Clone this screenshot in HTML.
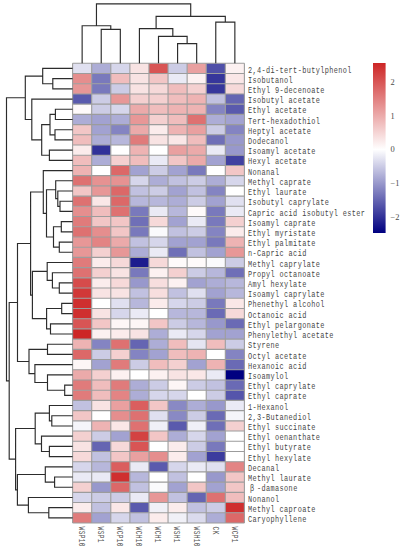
<!DOCTYPE html>
<html><head><meta charset="utf-8"><style>
html,body{margin:0;padding:0;background:#fff;width:404px;height:550px;overflow:hidden;position:relative}
</style></head><body>
<svg width="404" height="550" viewBox="0 0 404 550" style="position:absolute;left:0;top:0">
<rect x="72.60" y="63.30" width="19.09" height="10.22" fill="#e0e0f0"/>
<rect x="91.69" y="63.30" width="19.09" height="10.22" fill="#adadd6"/>
<rect x="110.78" y="63.30" width="19.09" height="10.22" fill="#d6d6eb"/>
<rect x="129.87" y="63.30" width="19.09" height="10.22" fill="#f8e3e3"/>
<rect x="148.96" y="63.30" width="19.09" height="10.22" fill="#d85555"/>
<rect x="168.04" y="63.30" width="19.09" height="10.22" fill="#cccce5"/>
<rect x="187.13" y="63.30" width="19.09" height="10.22" fill="#e9a0a0"/>
<rect x="206.22" y="63.30" width="19.09" height="10.22" fill="#5050a8"/>
<rect x="225.31" y="63.30" width="19.09" height="10.22" fill="#fcf1f1"/>
<rect x="72.60" y="73.52" width="19.09" height="10.22" fill="#e58e8e"/>
<rect x="91.69" y="73.52" width="19.09" height="10.22" fill="#7979bc"/>
<rect x="110.78" y="73.52" width="19.09" height="10.22" fill="#f0bdbd"/>
<rect x="129.87" y="73.52" width="19.09" height="10.22" fill="#f8e3e3"/>
<rect x="148.96" y="73.52" width="19.09" height="10.22" fill="#f2c6c6"/>
<rect x="168.04" y="73.52" width="19.09" height="10.22" fill="#eaeaf5"/>
<rect x="187.13" y="73.52" width="19.09" height="10.22" fill="#fcf1f1"/>
<rect x="206.22" y="73.52" width="19.09" height="10.22" fill="#36369b"/>
<rect x="225.31" y="73.52" width="19.09" height="10.22" fill="#fae7e7"/>
<rect x="72.60" y="83.73" width="19.09" height="10.22" fill="#e79797"/>
<rect x="91.69" y="83.73" width="19.09" height="10.22" fill="#7979bc"/>
<rect x="110.78" y="83.73" width="19.09" height="10.22" fill="#cccce5"/>
<rect x="129.87" y="83.73" width="19.09" height="10.22" fill="#f8e3e3"/>
<rect x="148.96" y="83.73" width="19.09" height="10.22" fill="#f6d9d9"/>
<rect x="168.04" y="83.73" width="19.09" height="10.22" fill="#f0bdbd"/>
<rect x="187.13" y="83.73" width="19.09" height="10.22" fill="#f4d0d0"/>
<rect x="206.22" y="83.73" width="19.09" height="10.22" fill="#36369b"/>
<rect x="225.31" y="83.73" width="19.09" height="10.22" fill="#f6d9d9"/>
<rect x="72.60" y="93.95" width="19.09" height="10.22" fill="#5a5aad"/>
<rect x="91.69" y="93.95" width="19.09" height="10.22" fill="#cccce5"/>
<rect x="110.78" y="93.95" width="19.09" height="10.22" fill="#e79797"/>
<rect x="129.87" y="93.95" width="19.09" height="10.22" fill="#f4d0d0"/>
<rect x="148.96" y="93.95" width="19.09" height="10.22" fill="#f4d0d0"/>
<rect x="168.04" y="93.95" width="19.09" height="10.22" fill="#f0bdbd"/>
<rect x="187.13" y="93.95" width="19.09" height="10.22" fill="#eeb3b3"/>
<rect x="206.22" y="93.95" width="19.09" height="10.22" fill="#c1c1e0"/>
<rect x="225.31" y="93.95" width="19.09" height="10.22" fill="#6565b2"/>
<rect x="72.60" y="104.16" width="19.09" height="10.22" fill="#fefafa"/>
<rect x="91.69" y="104.16" width="19.09" height="10.22" fill="#cccce5"/>
<rect x="110.78" y="104.16" width="19.09" height="10.22" fill="#d6d6eb"/>
<rect x="129.87" y="104.16" width="19.09" height="10.22" fill="#ebaaaa"/>
<rect x="148.96" y="104.16" width="19.09" height="10.22" fill="#f0bdbd"/>
<rect x="168.04" y="104.16" width="19.09" height="10.22" fill="#eeb3b3"/>
<rect x="187.13" y="104.16" width="19.09" height="10.22" fill="#eeb3b3"/>
<rect x="206.22" y="104.16" width="19.09" height="10.22" fill="#8484c2"/>
<rect x="225.31" y="104.16" width="19.09" height="10.22" fill="#5a5aad"/>
<rect x="72.60" y="114.38" width="19.09" height="10.22" fill="#adadd6"/>
<rect x="91.69" y="114.38" width="19.09" height="10.22" fill="#a2a2d1"/>
<rect x="110.78" y="114.38" width="19.09" height="10.22" fill="#adadd6"/>
<rect x="129.87" y="114.38" width="19.09" height="10.22" fill="#e79797"/>
<rect x="148.96" y="114.38" width="19.09" height="10.22" fill="#f4d0d0"/>
<rect x="168.04" y="114.38" width="19.09" height="10.22" fill="#f0bdbd"/>
<rect x="187.13" y="114.38" width="19.09" height="10.22" fill="#de7171"/>
<rect x="206.22" y="114.38" width="19.09" height="10.22" fill="#adadd6"/>
<rect x="225.31" y="114.38" width="19.09" height="10.22" fill="#a2a2d1"/>
<rect x="72.60" y="124.59" width="19.09" height="10.22" fill="#f2c6c6"/>
<rect x="91.69" y="124.59" width="19.09" height="10.22" fill="#a2a2d1"/>
<rect x="110.78" y="124.59" width="19.09" height="10.22" fill="#8484c2"/>
<rect x="129.87" y="124.59" width="19.09" height="10.22" fill="#ebaaaa"/>
<rect x="148.96" y="124.59" width="19.09" height="10.22" fill="#fbecec"/>
<rect x="168.04" y="124.59" width="19.09" height="10.22" fill="#eeb3b3"/>
<rect x="187.13" y="124.59" width="19.09" height="10.22" fill="#e9a0a0"/>
<rect x="206.22" y="124.59" width="19.09" height="10.22" fill="#cccce5"/>
<rect x="225.31" y="124.59" width="19.09" height="10.22" fill="#8484c2"/>
<rect x="72.60" y="134.81" width="19.09" height="10.22" fill="#f0bdbd"/>
<rect x="91.69" y="134.81" width="19.09" height="10.22" fill="#adadd6"/>
<rect x="110.78" y="134.81" width="19.09" height="10.22" fill="#b7b7db"/>
<rect x="129.87" y="134.81" width="19.09" height="10.22" fill="#e07b7b"/>
<rect x="148.96" y="134.81" width="19.09" height="10.22" fill="#f8e3e3"/>
<rect x="168.04" y="134.81" width="19.09" height="10.22" fill="#fae7e7"/>
<rect x="187.13" y="134.81" width="19.09" height="10.22" fill="#f0bdbd"/>
<rect x="206.22" y="134.81" width="19.09" height="10.22" fill="#6f6fb7"/>
<rect x="225.31" y="134.81" width="19.09" height="10.22" fill="#9898cc"/>
<rect x="72.60" y="145.02" width="19.09" height="10.22" fill="#fbecec"/>
<rect x="91.69" y="145.02" width="19.09" height="10.22" fill="#313199"/>
<rect x="110.78" y="145.02" width="19.09" height="10.22" fill="#ffffff"/>
<rect x="129.87" y="145.02" width="19.09" height="10.22" fill="#eeb3b3"/>
<rect x="148.96" y="145.02" width="19.09" height="10.22" fill="#ffffff"/>
<rect x="168.04" y="145.02" width="19.09" height="10.22" fill="#e9a0a0"/>
<rect x="187.13" y="145.02" width="19.09" height="10.22" fill="#ebaaaa"/>
<rect x="206.22" y="145.02" width="19.09" height="10.22" fill="#eaeaf5"/>
<rect x="225.31" y="145.02" width="19.09" height="10.22" fill="#9898cc"/>
<rect x="72.60" y="155.24" width="19.09" height="10.22" fill="#f0bdbd"/>
<rect x="91.69" y="155.24" width="19.09" height="10.22" fill="#adadd6"/>
<rect x="110.78" y="155.24" width="19.09" height="10.22" fill="#f4d0d0"/>
<rect x="129.87" y="155.24" width="19.09" height="10.22" fill="#f0bdbd"/>
<rect x="148.96" y="155.24" width="19.09" height="10.22" fill="#eaeaf5"/>
<rect x="168.04" y="155.24" width="19.09" height="10.22" fill="#f2c6c6"/>
<rect x="187.13" y="155.24" width="19.09" height="10.22" fill="#ebaaaa"/>
<rect x="206.22" y="155.24" width="19.09" height="10.22" fill="#a2a2d1"/>
<rect x="225.31" y="155.24" width="19.09" height="10.22" fill="#4141a0"/>
<rect x="72.60" y="165.46" width="19.09" height="10.22" fill="#eeb3b3"/>
<rect x="91.69" y="165.46" width="19.09" height="10.22" fill="#ffffff"/>
<rect x="110.78" y="165.46" width="19.09" height="10.22" fill="#dc6868"/>
<rect x="129.87" y="165.46" width="19.09" height="10.22" fill="#a2a2d1"/>
<rect x="148.96" y="165.46" width="19.09" height="10.22" fill="#cccce5"/>
<rect x="168.04" y="165.46" width="19.09" height="10.22" fill="#a2a2d1"/>
<rect x="187.13" y="165.46" width="19.09" height="10.22" fill="#7979bc"/>
<rect x="206.22" y="165.46" width="19.09" height="10.22" fill="#ffffff"/>
<rect x="225.31" y="165.46" width="19.09" height="10.22" fill="#f2c6c6"/>
<rect x="72.60" y="175.67" width="19.09" height="10.22" fill="#de7171"/>
<rect x="91.69" y="175.67" width="19.09" height="10.22" fill="#e69292"/>
<rect x="110.78" y="175.67" width="19.09" height="10.22" fill="#e69292"/>
<rect x="129.87" y="175.67" width="19.09" height="10.22" fill="#d6d6eb"/>
<rect x="148.96" y="175.67" width="19.09" height="10.22" fill="#adadd6"/>
<rect x="168.04" y="175.67" width="19.09" height="10.22" fill="#c1c1e0"/>
<rect x="187.13" y="175.67" width="19.09" height="10.22" fill="#cccce5"/>
<rect x="206.22" y="175.67" width="19.09" height="10.22" fill="#adadd6"/>
<rect x="225.31" y="175.67" width="19.09" height="10.22" fill="#d6d6eb"/>
<rect x="72.60" y="185.89" width="19.09" height="10.22" fill="#f2c6c6"/>
<rect x="91.69" y="185.89" width="19.09" height="10.22" fill="#e79797"/>
<rect x="110.78" y="185.89" width="19.09" height="10.22" fill="#dc6868"/>
<rect x="129.87" y="185.89" width="19.09" height="10.22" fill="#c1c1e0"/>
<rect x="148.96" y="185.89" width="19.09" height="10.22" fill="#cccce5"/>
<rect x="168.04" y="185.89" width="19.09" height="10.22" fill="#a2a2d1"/>
<rect x="187.13" y="185.89" width="19.09" height="10.22" fill="#c1c1e0"/>
<rect x="206.22" y="185.89" width="19.09" height="10.22" fill="#8484c2"/>
<rect x="225.31" y="185.89" width="19.09" height="10.22" fill="#ffffff"/>
<rect x="72.60" y="196.10" width="19.09" height="10.22" fill="#de7171"/>
<rect x="91.69" y="196.10" width="19.09" height="10.22" fill="#fae7e7"/>
<rect x="110.78" y="196.10" width="19.09" height="10.22" fill="#dc6868"/>
<rect x="129.87" y="196.10" width="19.09" height="10.22" fill="#b7b7db"/>
<rect x="148.96" y="196.10" width="19.09" height="10.22" fill="#b7b7db"/>
<rect x="168.04" y="196.10" width="19.09" height="10.22" fill="#adadd6"/>
<rect x="187.13" y="196.10" width="19.09" height="10.22" fill="#cccce5"/>
<rect x="206.22" y="196.10" width="19.09" height="10.22" fill="#a2a2d1"/>
<rect x="225.31" y="196.10" width="19.09" height="10.22" fill="#e0e0f0"/>
<rect x="72.60" y="206.32" width="19.09" height="10.22" fill="#e58e8e"/>
<rect x="91.69" y="206.32" width="19.09" height="10.22" fill="#f0bdbd"/>
<rect x="110.78" y="206.32" width="19.09" height="10.22" fill="#de7171"/>
<rect x="129.87" y="206.32" width="19.09" height="10.22" fill="#7979bc"/>
<rect x="148.96" y="206.32" width="19.09" height="10.22" fill="#eaeaf5"/>
<rect x="168.04" y="206.32" width="19.09" height="10.22" fill="#b7b7db"/>
<rect x="187.13" y="206.32" width="19.09" height="10.22" fill="#fefafa"/>
<rect x="206.22" y="206.32" width="19.09" height="10.22" fill="#7979bc"/>
<rect x="225.31" y="206.32" width="19.09" height="10.22" fill="#eaeaf5"/>
<rect x="72.60" y="216.53" width="19.09" height="10.22" fill="#e07b7b"/>
<rect x="91.69" y="216.53" width="19.09" height="10.22" fill="#f2c6c6"/>
<rect x="110.78" y="216.53" width="19.09" height="10.22" fill="#f2c6c6"/>
<rect x="129.87" y="216.53" width="19.09" height="10.22" fill="#6f6fb7"/>
<rect x="148.96" y="216.53" width="19.09" height="10.22" fill="#f6d9d9"/>
<rect x="168.04" y="216.53" width="19.09" height="10.22" fill="#a2a2d1"/>
<rect x="187.13" y="216.53" width="19.09" height="10.22" fill="#eaeaf5"/>
<rect x="206.22" y="216.53" width="19.09" height="10.22" fill="#7979bc"/>
<rect x="225.31" y="216.53" width="19.09" height="10.22" fill="#f4d0d0"/>
<rect x="72.60" y="226.75" width="19.09" height="10.22" fill="#de7171"/>
<rect x="91.69" y="226.75" width="19.09" height="10.22" fill="#e58e8e"/>
<rect x="110.78" y="226.75" width="19.09" height="10.22" fill="#f2c6c6"/>
<rect x="129.87" y="226.75" width="19.09" height="10.22" fill="#7979bc"/>
<rect x="148.96" y="226.75" width="19.09" height="10.22" fill="#fafafc"/>
<rect x="168.04" y="226.75" width="19.09" height="10.22" fill="#c1c1e0"/>
<rect x="187.13" y="226.75" width="19.09" height="10.22" fill="#cccce5"/>
<rect x="206.22" y="226.75" width="19.09" height="10.22" fill="#8484c2"/>
<rect x="225.31" y="226.75" width="19.09" height="10.22" fill="#fbecec"/>
<rect x="72.60" y="236.96" width="19.09" height="10.22" fill="#e79797"/>
<rect x="91.69" y="236.96" width="19.09" height="10.22" fill="#e38484"/>
<rect x="110.78" y="236.96" width="19.09" height="10.22" fill="#ebaaaa"/>
<rect x="129.87" y="236.96" width="19.09" height="10.22" fill="#c1c1e0"/>
<rect x="148.96" y="236.96" width="19.09" height="10.22" fill="#d6d6eb"/>
<rect x="168.04" y="236.96" width="19.09" height="10.22" fill="#a2a2d1"/>
<rect x="187.13" y="236.96" width="19.09" height="10.22" fill="#a2a2d1"/>
<rect x="206.22" y="236.96" width="19.09" height="10.22" fill="#7979bc"/>
<rect x="225.31" y="236.96" width="19.09" height="10.22" fill="#eeb3b3"/>
<rect x="72.60" y="247.18" width="19.09" height="10.22" fill="#e79797"/>
<rect x="91.69" y="247.18" width="19.09" height="10.22" fill="#f4d0d0"/>
<rect x="110.78" y="247.18" width="19.09" height="10.22" fill="#e79797"/>
<rect x="129.87" y="247.18" width="19.09" height="10.22" fill="#adadd6"/>
<rect x="148.96" y="247.18" width="19.09" height="10.22" fill="#eaeaf5"/>
<rect x="168.04" y="247.18" width="19.09" height="10.22" fill="#6f6fb7"/>
<rect x="187.13" y="247.18" width="19.09" height="10.22" fill="#c1c1e0"/>
<rect x="206.22" y="247.18" width="19.09" height="10.22" fill="#a2a2d1"/>
<rect x="225.31" y="247.18" width="19.09" height="10.22" fill="#e79797"/>
<rect x="72.60" y="257.40" width="19.09" height="10.22" fill="#e07b7b"/>
<rect x="91.69" y="257.40" width="19.09" height="10.22" fill="#fbecec"/>
<rect x="110.78" y="257.40" width="19.09" height="10.22" fill="#f6d9d9"/>
<rect x="129.87" y="257.40" width="19.09" height="10.22" fill="#1d1d8e"/>
<rect x="148.96" y="257.40" width="19.09" height="10.22" fill="#f6d9d9"/>
<rect x="168.04" y="257.40" width="19.09" height="10.22" fill="#fefafa"/>
<rect x="187.13" y="257.40" width="19.09" height="10.22" fill="#fefafa"/>
<rect x="206.22" y="257.40" width="19.09" height="10.22" fill="#fafafc"/>
<rect x="225.31" y="257.40" width="19.09" height="10.22" fill="#cccce5"/>
<rect x="72.60" y="267.61" width="19.09" height="10.22" fill="#de7171"/>
<rect x="91.69" y="267.61" width="19.09" height="10.22" fill="#f4d0d0"/>
<rect x="110.78" y="267.61" width="19.09" height="10.22" fill="#f8e3e3"/>
<rect x="129.87" y="267.61" width="19.09" height="10.22" fill="#7979bc"/>
<rect x="148.96" y="267.61" width="19.09" height="10.22" fill="#fcf1f1"/>
<rect x="168.04" y="267.61" width="19.09" height="10.22" fill="#f4d0d0"/>
<rect x="187.13" y="267.61" width="19.09" height="10.22" fill="#cccce5"/>
<rect x="206.22" y="267.61" width="19.09" height="10.22" fill="#b7b7db"/>
<rect x="225.31" y="267.61" width="19.09" height="10.22" fill="#6f6fb7"/>
<rect x="72.60" y="277.83" width="19.09" height="10.22" fill="#d64b4b"/>
<rect x="91.69" y="277.83" width="19.09" height="10.22" fill="#fbecec"/>
<rect x="110.78" y="277.83" width="19.09" height="10.22" fill="#f6d9d9"/>
<rect x="129.87" y="277.83" width="19.09" height="10.22" fill="#9898cc"/>
<rect x="148.96" y="277.83" width="19.09" height="10.22" fill="#f7dede"/>
<rect x="168.04" y="277.83" width="19.09" height="10.22" fill="#fcf1f1"/>
<rect x="187.13" y="277.83" width="19.09" height="10.22" fill="#a2a2d1"/>
<rect x="206.22" y="277.83" width="19.09" height="10.22" fill="#adadd6"/>
<rect x="225.31" y="277.83" width="19.09" height="10.22" fill="#b7b7db"/>
<rect x="72.60" y="288.04" width="19.09" height="10.22" fill="#d13838"/>
<rect x="91.69" y="288.04" width="19.09" height="10.22" fill="#f8e3e3"/>
<rect x="110.78" y="288.04" width="19.09" height="10.22" fill="#f8e3e3"/>
<rect x="129.87" y="288.04" width="19.09" height="10.22" fill="#c1c1e0"/>
<rect x="148.96" y="288.04" width="19.09" height="10.22" fill="#f7dede"/>
<rect x="168.04" y="288.04" width="19.09" height="10.22" fill="#c1c1e0"/>
<rect x="187.13" y="288.04" width="19.09" height="10.22" fill="#e0e0f0"/>
<rect x="206.22" y="288.04" width="19.09" height="10.22" fill="#a2a2d1"/>
<rect x="225.31" y="288.04" width="19.09" height="10.22" fill="#b7b7db"/>
<rect x="72.60" y="298.26" width="19.09" height="10.22" fill="#cf2f2f"/>
<rect x="91.69" y="298.26" width="19.09" height="10.22" fill="#ffffff"/>
<rect x="110.78" y="298.26" width="19.09" height="10.22" fill="#e0e0f0"/>
<rect x="129.87" y="298.26" width="19.09" height="10.22" fill="#b7b7db"/>
<rect x="148.96" y="298.26" width="19.09" height="10.22" fill="#fbecec"/>
<rect x="168.04" y="298.26" width="19.09" height="10.22" fill="#d6d6eb"/>
<rect x="187.13" y="298.26" width="19.09" height="10.22" fill="#cccce5"/>
<rect x="206.22" y="298.26" width="19.09" height="10.22" fill="#7979bc"/>
<rect x="225.31" y="298.26" width="19.09" height="10.22" fill="#fae7e7"/>
<rect x="72.60" y="308.47" width="19.09" height="10.22" fill="#cf2f2f"/>
<rect x="91.69" y="308.47" width="19.09" height="10.22" fill="#f8e3e3"/>
<rect x="110.78" y="308.47" width="19.09" height="10.22" fill="#d6d6eb"/>
<rect x="129.87" y="308.47" width="19.09" height="10.22" fill="#eaeaf5"/>
<rect x="148.96" y="308.47" width="19.09" height="10.22" fill="#ffffff"/>
<rect x="168.04" y="308.47" width="19.09" height="10.22" fill="#b7b7db"/>
<rect x="187.13" y="308.47" width="19.09" height="10.22" fill="#b7b7db"/>
<rect x="206.22" y="308.47" width="19.09" height="10.22" fill="#6a6ab5"/>
<rect x="225.31" y="308.47" width="19.09" height="10.22" fill="#f6d9d9"/>
<rect x="72.60" y="318.69" width="19.09" height="10.22" fill="#d85555"/>
<rect x="91.69" y="318.69" width="19.09" height="10.22" fill="#f2c6c6"/>
<rect x="110.78" y="318.69" width="19.09" height="10.22" fill="#fdf6f6"/>
<rect x="129.87" y="318.69" width="19.09" height="10.22" fill="#fdf6f6"/>
<rect x="148.96" y="318.69" width="19.09" height="10.22" fill="#f2c6c6"/>
<rect x="168.04" y="318.69" width="19.09" height="10.22" fill="#cccce5"/>
<rect x="187.13" y="318.69" width="19.09" height="10.22" fill="#b7b7db"/>
<rect x="206.22" y="318.69" width="19.09" height="10.22" fill="#9898cc"/>
<rect x="225.31" y="318.69" width="19.09" height="10.22" fill="#6a6ab5"/>
<rect x="72.60" y="328.90" width="19.09" height="10.22" fill="#cd2626"/>
<rect x="91.69" y="328.90" width="19.09" height="10.22" fill="#fcf1f1"/>
<rect x="110.78" y="328.90" width="19.09" height="10.22" fill="#fbecec"/>
<rect x="129.87" y="328.90" width="19.09" height="10.22" fill="#f8e3e3"/>
<rect x="148.96" y="328.90" width="19.09" height="10.22" fill="#adadd6"/>
<rect x="168.04" y="328.90" width="19.09" height="10.22" fill="#eaeaf5"/>
<rect x="187.13" y="328.90" width="19.09" height="10.22" fill="#d6d6eb"/>
<rect x="206.22" y="328.90" width="19.09" height="10.22" fill="#a2a2d1"/>
<rect x="225.31" y="328.90" width="19.09" height="10.22" fill="#a2a2d1"/>
<rect x="72.60" y="339.12" width="19.09" height="10.22" fill="#eeb3b3"/>
<rect x="91.69" y="339.12" width="19.09" height="10.22" fill="#8484c2"/>
<rect x="110.78" y="339.12" width="19.09" height="10.22" fill="#de7171"/>
<rect x="129.87" y="339.12" width="19.09" height="10.22" fill="#6565b2"/>
<rect x="148.96" y="339.12" width="19.09" height="10.22" fill="#adadd6"/>
<rect x="168.04" y="339.12" width="19.09" height="10.22" fill="#f0bdbd"/>
<rect x="187.13" y="339.12" width="19.09" height="10.22" fill="#e5e5f2"/>
<rect x="206.22" y="339.12" width="19.09" height="10.22" fill="#f0bdbd"/>
<rect x="225.31" y="339.12" width="19.09" height="10.22" fill="#cccce5"/>
<rect x="72.60" y="349.34" width="19.09" height="10.22" fill="#dc6868"/>
<rect x="91.69" y="349.34" width="19.09" height="10.22" fill="#cccce5"/>
<rect x="110.78" y="349.34" width="19.09" height="10.22" fill="#f4d0d0"/>
<rect x="129.87" y="349.34" width="19.09" height="10.22" fill="#8484c2"/>
<rect x="148.96" y="349.34" width="19.09" height="10.22" fill="#a2a2d1"/>
<rect x="168.04" y="349.34" width="19.09" height="10.22" fill="#f0bdbd"/>
<rect x="187.13" y="349.34" width="19.09" height="10.22" fill="#eeb3b3"/>
<rect x="206.22" y="349.34" width="19.09" height="10.22" fill="#ffffff"/>
<rect x="225.31" y="349.34" width="19.09" height="10.22" fill="#8484c2"/>
<rect x="72.60" y="359.55" width="19.09" height="10.22" fill="#fdf6f6"/>
<rect x="91.69" y="359.55" width="19.09" height="10.22" fill="#a2a2d1"/>
<rect x="110.78" y="359.55" width="19.09" height="10.22" fill="#e07b7b"/>
<rect x="129.87" y="359.55" width="19.09" height="10.22" fill="#cccce5"/>
<rect x="148.96" y="359.55" width="19.09" height="10.22" fill="#f0bdbd"/>
<rect x="168.04" y="359.55" width="19.09" height="10.22" fill="#f4d0d0"/>
<rect x="187.13" y="359.55" width="19.09" height="10.22" fill="#a2a2d1"/>
<rect x="206.22" y="359.55" width="19.09" height="10.22" fill="#eeb3b3"/>
<rect x="225.31" y="359.55" width="19.09" height="10.22" fill="#6a6ab5"/>
<rect x="72.60" y="369.77" width="19.09" height="10.22" fill="#ebaaaa"/>
<rect x="91.69" y="369.77" width="19.09" height="10.22" fill="#f4d0d0"/>
<rect x="110.78" y="369.77" width="19.09" height="10.22" fill="#fcf1f1"/>
<rect x="129.87" y="369.77" width="19.09" height="10.22" fill="#ffffff"/>
<rect x="148.96" y="369.77" width="19.09" height="10.22" fill="#fcf1f1"/>
<rect x="168.04" y="369.77" width="19.09" height="10.22" fill="#f8e3e3"/>
<rect x="187.13" y="369.77" width="19.09" height="10.22" fill="#fae7e7"/>
<rect x="206.22" y="369.77" width="19.09" height="10.22" fill="#eaeaf5"/>
<rect x="225.31" y="369.77" width="19.09" height="10.22" fill="#000080"/>
<rect x="72.60" y="379.98" width="19.09" height="10.22" fill="#e07b7b"/>
<rect x="91.69" y="379.98" width="19.09" height="10.22" fill="#f0bdbd"/>
<rect x="110.78" y="379.98" width="19.09" height="10.22" fill="#e07b7b"/>
<rect x="129.87" y="379.98" width="19.09" height="10.22" fill="#adadd6"/>
<rect x="148.96" y="379.98" width="19.09" height="10.22" fill="#cccce5"/>
<rect x="168.04" y="379.98" width="19.09" height="10.22" fill="#fdf6f6"/>
<rect x="187.13" y="379.98" width="19.09" height="10.22" fill="#cccce5"/>
<rect x="206.22" y="379.98" width="19.09" height="10.22" fill="#c1c1e0"/>
<rect x="225.31" y="379.98" width="19.09" height="10.22" fill="#6a6ab5"/>
<rect x="72.60" y="390.20" width="19.09" height="10.22" fill="#e07b7b"/>
<rect x="91.69" y="390.20" width="19.09" height="10.22" fill="#f0bdbd"/>
<rect x="110.78" y="390.20" width="19.09" height="10.22" fill="#e38484"/>
<rect x="129.87" y="390.20" width="19.09" height="10.22" fill="#adadd6"/>
<rect x="148.96" y="390.20" width="19.09" height="10.22" fill="#d6d6eb"/>
<rect x="168.04" y="390.20" width="19.09" height="10.22" fill="#d6d6eb"/>
<rect x="187.13" y="390.20" width="19.09" height="10.22" fill="#ffffff"/>
<rect x="206.22" y="390.20" width="19.09" height="10.22" fill="#cccce5"/>
<rect x="225.31" y="390.20" width="19.09" height="10.22" fill="#5555ab"/>
<rect x="72.60" y="400.41" width="19.09" height="10.22" fill="#c1c1e0"/>
<rect x="91.69" y="400.41" width="19.09" height="10.22" fill="#f8e3e3"/>
<rect x="110.78" y="400.41" width="19.09" height="10.22" fill="#e9a0a0"/>
<rect x="129.87" y="400.41" width="19.09" height="10.22" fill="#da5e5e"/>
<rect x="148.96" y="400.41" width="19.09" height="10.22" fill="#f2c6c6"/>
<rect x="168.04" y="400.41" width="19.09" height="10.22" fill="#8989c4"/>
<rect x="187.13" y="400.41" width="19.09" height="10.22" fill="#adadd6"/>
<rect x="206.22" y="400.41" width="19.09" height="10.22" fill="#9898cc"/>
<rect x="225.31" y="400.41" width="19.09" height="10.22" fill="#eaeaf5"/>
<rect x="72.60" y="410.63" width="19.09" height="10.22" fill="#f2c6c6"/>
<rect x="91.69" y="410.63" width="19.09" height="10.22" fill="#ffffff"/>
<rect x="110.78" y="410.63" width="19.09" height="10.22" fill="#e58e8e"/>
<rect x="129.87" y="410.63" width="19.09" height="10.22" fill="#de7171"/>
<rect x="148.96" y="410.63" width="19.09" height="10.22" fill="#e0e0f0"/>
<rect x="168.04" y="410.63" width="19.09" height="10.22" fill="#8989c4"/>
<rect x="187.13" y="410.63" width="19.09" height="10.22" fill="#cccce5"/>
<rect x="206.22" y="410.63" width="19.09" height="10.22" fill="#6a6ab5"/>
<rect x="225.31" y="410.63" width="19.09" height="10.22" fill="#f5f5fa"/>
<rect x="72.60" y="420.84" width="19.09" height="10.22" fill="#f5f5fa"/>
<rect x="91.69" y="420.84" width="19.09" height="10.22" fill="#eeb3b3"/>
<rect x="110.78" y="420.84" width="19.09" height="10.22" fill="#fae7e7"/>
<rect x="129.87" y="420.84" width="19.09" height="10.22" fill="#de7171"/>
<rect x="148.96" y="420.84" width="19.09" height="10.22" fill="#f0f0f7"/>
<rect x="168.04" y="420.84" width="19.09" height="10.22" fill="#5a5aad"/>
<rect x="187.13" y="420.84" width="19.09" height="10.22" fill="#f0f0f7"/>
<rect x="206.22" y="420.84" width="19.09" height="10.22" fill="#6f6fb7"/>
<rect x="225.31" y="420.84" width="19.09" height="10.22" fill="#f4d0d0"/>
<rect x="72.60" y="431.06" width="19.09" height="10.22" fill="#f4d0d0"/>
<rect x="91.69" y="431.06" width="19.09" height="10.22" fill="#cccce5"/>
<rect x="110.78" y="431.06" width="19.09" height="10.22" fill="#a2a2d1"/>
<rect x="129.87" y="431.06" width="19.09" height="10.22" fill="#d34242"/>
<rect x="148.96" y="431.06" width="19.09" height="10.22" fill="#f2c6c6"/>
<rect x="168.04" y="431.06" width="19.09" height="10.22" fill="#adadd6"/>
<rect x="187.13" y="431.06" width="19.09" height="10.22" fill="#d6d6eb"/>
<rect x="206.22" y="431.06" width="19.09" height="10.22" fill="#a2a2d1"/>
<rect x="225.31" y="431.06" width="19.09" height="10.22" fill="#ffffff"/>
<rect x="72.60" y="441.28" width="19.09" height="10.22" fill="#f8e3e3"/>
<rect x="91.69" y="441.28" width="19.09" height="10.22" fill="#6565b2"/>
<rect x="110.78" y="441.28" width="19.09" height="10.22" fill="#f6d9d9"/>
<rect x="129.87" y="441.28" width="19.09" height="10.22" fill="#d85555"/>
<rect x="148.96" y="441.28" width="19.09" height="10.22" fill="#ffffff"/>
<rect x="168.04" y="441.28" width="19.09" height="10.22" fill="#fbecec"/>
<rect x="187.13" y="441.28" width="19.09" height="10.22" fill="#cccce5"/>
<rect x="206.22" y="441.28" width="19.09" height="10.22" fill="#7979bc"/>
<rect x="225.31" y="441.28" width="19.09" height="10.22" fill="#ffffff"/>
<rect x="72.60" y="451.49" width="19.09" height="10.22" fill="#f6d9d9"/>
<rect x="91.69" y="451.49" width="19.09" height="10.22" fill="#c1c1e0"/>
<rect x="110.78" y="451.49" width="19.09" height="10.22" fill="#f2c6c6"/>
<rect x="129.87" y="451.49" width="19.09" height="10.22" fill="#e9a0a0"/>
<rect x="148.96" y="451.49" width="19.09" height="10.22" fill="#e58e8e"/>
<rect x="168.04" y="451.49" width="19.09" height="10.22" fill="#fbecec"/>
<rect x="187.13" y="451.49" width="19.09" height="10.22" fill="#a2a2d1"/>
<rect x="206.22" y="451.49" width="19.09" height="10.22" fill="#3c3c9e"/>
<rect x="225.31" y="451.49" width="19.09" height="10.22" fill="#ffffff"/>
<rect x="72.60" y="461.71" width="19.09" height="10.22" fill="#d6d6eb"/>
<rect x="91.69" y="461.71" width="19.09" height="10.22" fill="#b7b7db"/>
<rect x="110.78" y="461.71" width="19.09" height="10.22" fill="#da5e5e"/>
<rect x="129.87" y="461.71" width="19.09" height="10.22" fill="#eaeaf5"/>
<rect x="148.96" y="461.71" width="19.09" height="10.22" fill="#5a5aad"/>
<rect x="168.04" y="461.71" width="19.09" height="10.22" fill="#d6d6eb"/>
<rect x="187.13" y="461.71" width="19.09" height="10.22" fill="#eaeaf5"/>
<rect x="206.22" y="461.71" width="19.09" height="10.22" fill="#e0e0f0"/>
<rect x="225.31" y="461.71" width="19.09" height="10.22" fill="#e38484"/>
<rect x="72.60" y="471.92" width="19.09" height="10.22" fill="#eaeaf5"/>
<rect x="91.69" y="471.92" width="19.09" height="10.22" fill="#eaeaf5"/>
<rect x="110.78" y="471.92" width="19.09" height="10.22" fill="#cf2f2f"/>
<rect x="129.87" y="471.92" width="19.09" height="10.22" fill="#b7b7db"/>
<rect x="148.96" y="471.92" width="19.09" height="10.22" fill="#ffffff"/>
<rect x="168.04" y="471.92" width="19.09" height="10.22" fill="#c1c1e0"/>
<rect x="187.13" y="471.92" width="19.09" height="10.22" fill="#ffffff"/>
<rect x="206.22" y="471.92" width="19.09" height="10.22" fill="#9898cc"/>
<rect x="225.31" y="471.92" width="19.09" height="10.22" fill="#f2c6c6"/>
<rect x="72.60" y="482.14" width="19.09" height="10.22" fill="#f4d0d0"/>
<rect x="91.69" y="482.14" width="19.09" height="10.22" fill="#9898cc"/>
<rect x="110.78" y="482.14" width="19.09" height="10.22" fill="#dc6868"/>
<rect x="129.87" y="482.14" width="19.09" height="10.22" fill="#c1c1e0"/>
<rect x="148.96" y="482.14" width="19.09" height="10.22" fill="#fafafc"/>
<rect x="168.04" y="482.14" width="19.09" height="10.22" fill="#a2a2d1"/>
<rect x="187.13" y="482.14" width="19.09" height="10.22" fill="#f2c6c6"/>
<rect x="206.22" y="482.14" width="19.09" height="10.22" fill="#a2a2d1"/>
<rect x="225.31" y="482.14" width="19.09" height="10.22" fill="#f2c6c6"/>
<rect x="72.60" y="492.35" width="19.09" height="10.22" fill="#d6d6eb"/>
<rect x="91.69" y="492.35" width="19.09" height="10.22" fill="#cccce5"/>
<rect x="110.78" y="492.35" width="19.09" height="10.22" fill="#cccce5"/>
<rect x="129.87" y="492.35" width="19.09" height="10.22" fill="#eaeaf5"/>
<rect x="148.96" y="492.35" width="19.09" height="10.22" fill="#e79797"/>
<rect x="168.04" y="492.35" width="19.09" height="10.22" fill="#c1c1e0"/>
<rect x="187.13" y="492.35" width="19.09" height="10.22" fill="#6565b2"/>
<rect x="206.22" y="492.35" width="19.09" height="10.22" fill="#de7171"/>
<rect x="225.31" y="492.35" width="19.09" height="10.22" fill="#f0bdbd"/>
<rect x="72.60" y="502.57" width="19.09" height="10.22" fill="#fbecec"/>
<rect x="91.69" y="502.57" width="19.09" height="10.22" fill="#c1c1e0"/>
<rect x="110.78" y="502.57" width="19.09" height="10.22" fill="#fae7e7"/>
<rect x="129.87" y="502.57" width="19.09" height="10.22" fill="#5a5aad"/>
<rect x="148.96" y="502.57" width="19.09" height="10.22" fill="#f0f0f7"/>
<rect x="168.04" y="502.57" width="19.09" height="10.22" fill="#fbecec"/>
<rect x="187.13" y="502.57" width="19.09" height="10.22" fill="#c1c1e0"/>
<rect x="206.22" y="502.57" width="19.09" height="10.22" fill="#cccce5"/>
<rect x="225.31" y="502.57" width="19.09" height="10.22" fill="#cf2f2f"/>
<rect x="72.60" y="512.78" width="19.09" height="10.22" fill="#e07b7b"/>
<rect x="91.69" y="512.78" width="19.09" height="10.22" fill="#a2a2d1"/>
<rect x="110.78" y="512.78" width="19.09" height="10.22" fill="#d6d6eb"/>
<rect x="129.87" y="512.78" width="19.09" height="10.22" fill="#c1c1e0"/>
<rect x="148.96" y="512.78" width="19.09" height="10.22" fill="#fbecec"/>
<rect x="168.04" y="512.78" width="19.09" height="10.22" fill="#f0f0f7"/>
<rect x="187.13" y="512.78" width="19.09" height="10.22" fill="#dbdbed"/>
<rect x="206.22" y="512.78" width="19.09" height="10.22" fill="#adadd6"/>
<rect x="225.31" y="512.78" width="19.09" height="10.22" fill="#dc6868"/>
<path d="M72.60 63.30V523.00M91.69 63.30V523.00M110.78 63.30V523.00M129.87 63.30V523.00M148.96 63.30V523.00M168.04 63.30V523.00M187.13 63.30V523.00M206.22 63.30V523.00M225.31 63.30V523.00M244.40 63.30V523.00M72.60 63.30H244.40M72.60 73.52H244.40M72.60 83.73H244.40M72.60 93.95H244.40M72.60 104.16H244.40M72.60 114.38H244.40M72.60 124.59H244.40M72.60 134.81H244.40M72.60 145.02H244.40M72.60 155.24H244.40M72.60 165.46H244.40M72.60 175.67H244.40M72.60 185.89H244.40M72.60 196.10H244.40M72.60 206.32H244.40M72.60 216.53H244.40M72.60 226.75H244.40M72.60 236.96H244.40M72.60 247.18H244.40M72.60 257.40H244.40M72.60 267.61H244.40M72.60 277.83H244.40M72.60 288.04H244.40M72.60 298.26H244.40M72.60 308.47H244.40M72.60 318.69H244.40M72.60 328.90H244.40M72.60 339.12H244.40M72.60 349.34H244.40M72.60 359.55H244.40M72.60 369.77H244.40M72.60 379.98H244.40M72.60 390.20H244.40M72.60 400.41H244.40M72.60 410.63H244.40M72.60 420.84H244.40M72.60 431.06H244.40M72.60 441.28H244.40M72.60 451.49H244.40M72.60 461.71H244.40M72.60 471.92H244.40M72.60 482.14H244.40M72.60 492.35H244.40M72.60 502.57H244.40M72.60 512.78H244.40M72.60 523.00H244.40" stroke="#9c9c9c" stroke-width="1.1" fill="none"/>
<path d="M72.60 78.62H52.80V88.84H72.60M72.60 68.41H42.70V83.73H52.80M72.60 109.27H55.40V119.49H72.60M72.60 129.70H55.00V139.92H72.60M55.40 114.38H50.00V134.81H55.00M72.60 150.13H49.40V160.35H72.60M50.00 124.59H41.70V155.24H49.40M72.60 99.05H31.80V139.92H41.70M42.70 76.07H25.30V119.49H31.80M72.60 201.21H60.00V211.43H72.60M72.60 190.99H57.80V206.32H60.00M72.60 180.78H55.70V198.66H57.80M72.60 221.64H61.30V231.86H72.60M72.60 242.07H59.30V252.29H72.60M61.30 226.75H53.50V247.18H59.30M55.70 189.72H46.50V236.96H53.50M72.60 170.56H43.30V213.34H46.50M72.60 282.93H59.30V293.15H72.60M72.60 272.72H52.40V288.04H59.30M72.60 262.50H47.20V280.38H52.40M72.60 303.37H61.70V313.58H72.60M72.60 323.80H50.50V334.01H72.60M61.70 308.47H46.60V328.90H50.50M47.20 271.44H32.40V318.69H46.60M43.30 191.95H30.60V295.07H32.40M72.60 344.23H47.50V354.44H72.60M72.60 385.09H64.70V395.31H72.60M72.60 374.87H47.50V390.20H64.70M72.60 364.66H34.90V382.54H47.50M47.50 349.34H29.00V373.60H34.90M30.60 243.51H17.50V361.47H29.00M72.60 415.74H51.80V425.95H72.60M72.60 405.52H49.40V420.84H51.80M72.60 446.38H49.40V456.60H72.60M72.60 436.17H41.50V451.49H49.40M49.40 413.18H35.20V443.83H41.50M72.60 477.03H54.60V487.25H72.60M72.60 466.81H45.30V482.14H54.60M72.60 507.68H48.80V517.89H72.60M72.60 497.46H28.40V512.78H48.80M45.30 474.48H17.40V505.12H28.40M35.20 428.51H15.60V489.80H17.40M17.50 302.49H9.20V459.15H15.60M25.30 97.78H6.50V380.82H9.20" stroke="#2c2c2c" stroke-width="1.15" fill="none"/>
<path d="M101.23 63.30V29.30H120.32V63.30M82.14 63.30V25.70H110.78V29.30M177.59 63.30V43.60H196.68V63.30M158.50 63.30V36.30H187.13V43.60M139.41 63.30V28.60H172.82V36.30M215.77 63.30V22.10H234.86V63.30M156.11 28.60V16.40H225.31V22.10M96.46 25.70V3.80H190.71V16.40" stroke="#2c2c2c" stroke-width="1.15" fill="none"/>
<defs><linearGradient id="lg" x1="0" y1="0" x2="0" y2="1"><stop offset="0" stop-color="#cd2626"/><stop offset="0.5089" stop-color="#ffffff"/><stop offset="1" stop-color="#000080"/></linearGradient></defs>
<rect x="373.0" y="63.0" width="12.600000000000023" height="170.0" fill="url(#lg)"/>
<text x="390.5" y="84.50" style="font-family:&quot;Liberation Serif&quot;,serif;font-size:8.4px;fill:#4a4a4a">2</text>
<text x="390.5" y="118.60" style="font-family:&quot;Liberation Serif&quot;,serif;font-size:8.4px;fill:#4a4a4a">1</text>
<text x="390.5" y="152.30" style="font-family:&quot;Liberation Serif&quot;,serif;font-size:8.4px;fill:#4a4a4a">0</text>
<text x="390.5" y="185.90" style="font-family:&quot;Liberation Serif&quot;,serif;font-size:8.4px;fill:#4a4a4a">−1</text>
<text x="390.5" y="220.30" style="font-family:&quot;Liberation Serif&quot;,serif;font-size:8.4px;fill:#4a4a4a">−2</text>
<text transform="translate(248.0 72.51) scale(0.7800 1)" style="font-family:&quot;Liberation Mono&quot;,monospace;font-size:8.8px;fill:#464646;letter-spacing:0.515px">2,4-di-tert-butylphenol</text>
<text transform="translate(248.0 82.72) scale(0.7800 1)" style="font-family:&quot;Liberation Mono&quot;,monospace;font-size:8.8px;fill:#464646;letter-spacing:0.515px">Isobutanol</text>
<text transform="translate(248.0 92.94) scale(0.7800 1)" style="font-family:&quot;Liberation Mono&quot;,monospace;font-size:8.8px;fill:#464646;letter-spacing:0.515px">Ethyl 9-decenoate</text>
<text transform="translate(248.0 103.15) scale(0.7800 1)" style="font-family:&quot;Liberation Mono&quot;,monospace;font-size:8.8px;fill:#464646;letter-spacing:0.515px">Isobutyl acetate</text>
<text transform="translate(248.0 113.37) scale(0.7800 1)" style="font-family:&quot;Liberation Mono&quot;,monospace;font-size:8.8px;fill:#464646;letter-spacing:0.515px">Ethyl acetate</text>
<text transform="translate(248.0 123.59) scale(0.7800 1)" style="font-family:&quot;Liberation Mono&quot;,monospace;font-size:8.8px;fill:#464646;letter-spacing:0.515px">Tert-hexadothiol</text>
<text transform="translate(248.0 133.80) scale(0.7800 1)" style="font-family:&quot;Liberation Mono&quot;,monospace;font-size:8.8px;fill:#464646;letter-spacing:0.515px">Heptyl acetate</text>
<text transform="translate(248.0 144.02) scale(0.7800 1)" style="font-family:&quot;Liberation Mono&quot;,monospace;font-size:8.8px;fill:#464646;letter-spacing:0.515px">Dodecanol</text>
<text transform="translate(248.0 154.23) scale(0.7800 1)" style="font-family:&quot;Liberation Mono&quot;,monospace;font-size:8.8px;fill:#464646;letter-spacing:0.515px">Isoamyl acetate</text>
<text transform="translate(248.0 164.45) scale(0.7800 1)" style="font-family:&quot;Liberation Mono&quot;,monospace;font-size:8.8px;fill:#464646;letter-spacing:0.515px">Hexyl acetate</text>
<text transform="translate(248.0 174.66) scale(0.7800 1)" style="font-family:&quot;Liberation Mono&quot;,monospace;font-size:8.8px;fill:#464646;letter-spacing:0.515px">Nonanal</text>
<text transform="translate(248.0 184.88) scale(0.7800 1)" style="font-family:&quot;Liberation Mono&quot;,monospace;font-size:8.8px;fill:#464646;letter-spacing:0.515px">Methyl caprate</text>
<text transform="translate(248.0 195.09) scale(0.7800 1)" style="font-family:&quot;Liberation Mono&quot;,monospace;font-size:8.8px;fill:#464646;letter-spacing:0.515px">Ethyl laurate</text>
<text transform="translate(248.0 205.31) scale(0.7800 1)" style="font-family:&quot;Liberation Mono&quot;,monospace;font-size:8.8px;fill:#464646;letter-spacing:0.515px">Isobutyl caprylate</text>
<text transform="translate(248.0 215.53) scale(0.7800 1)" style="font-family:&quot;Liberation Mono&quot;,monospace;font-size:8.8px;fill:#464646;letter-spacing:0.515px">Capric acid isobutyl ester</text>
<text transform="translate(248.0 225.74) scale(0.7800 1)" style="font-family:&quot;Liberation Mono&quot;,monospace;font-size:8.8px;fill:#464646;letter-spacing:0.515px">Isoamyl caprate</text>
<text transform="translate(248.0 235.96) scale(0.7800 1)" style="font-family:&quot;Liberation Mono&quot;,monospace;font-size:8.8px;fill:#464646;letter-spacing:0.515px">Ethyl myristate</text>
<text transform="translate(248.0 246.17) scale(0.7800 1)" style="font-family:&quot;Liberation Mono&quot;,monospace;font-size:8.8px;fill:#464646;letter-spacing:0.515px">Ethyl palmitate</text>
<text transform="translate(248.0 256.39) scale(0.7800 1)" style="font-family:&quot;Liberation Mono&quot;,monospace;font-size:8.8px;fill:#464646;letter-spacing:0.515px">n-Capric acid</text>
<text transform="translate(248.0 266.60) scale(0.7800 1)" style="font-family:&quot;Liberation Mono&quot;,monospace;font-size:8.8px;fill:#464646;letter-spacing:0.515px">Methyl caprylate</text>
<text transform="translate(248.0 276.82) scale(0.7800 1)" style="font-family:&quot;Liberation Mono&quot;,monospace;font-size:8.8px;fill:#464646;letter-spacing:0.515px">Propyl octanoate</text>
<text transform="translate(248.0 287.03) scale(0.7800 1)" style="font-family:&quot;Liberation Mono&quot;,monospace;font-size:8.8px;fill:#464646;letter-spacing:0.515px">Amyl hexylate</text>
<text transform="translate(248.0 297.25) scale(0.7800 1)" style="font-family:&quot;Liberation Mono&quot;,monospace;font-size:8.8px;fill:#464646;letter-spacing:0.515px">Isoamyl caprylate</text>
<text transform="translate(248.0 307.47) scale(0.7800 1)" style="font-family:&quot;Liberation Mono&quot;,monospace;font-size:8.8px;fill:#464646;letter-spacing:0.515px">Phenethyl alcohol</text>
<text transform="translate(248.0 317.68) scale(0.7800 1)" style="font-family:&quot;Liberation Mono&quot;,monospace;font-size:8.8px;fill:#464646;letter-spacing:0.515px">Octanoic acid</text>
<text transform="translate(248.0 327.90) scale(0.7800 1)" style="font-family:&quot;Liberation Mono&quot;,monospace;font-size:8.8px;fill:#464646;letter-spacing:0.515px">Ethyl pelargonate</text>
<text transform="translate(248.0 338.11) scale(0.7800 1)" style="font-family:&quot;Liberation Mono&quot;,monospace;font-size:8.8px;fill:#464646;letter-spacing:0.515px">Phenylethyl acetate</text>
<text transform="translate(248.0 348.33) scale(0.7800 1)" style="font-family:&quot;Liberation Mono&quot;,monospace;font-size:8.8px;fill:#464646;letter-spacing:0.515px">Styrene</text>
<text transform="translate(248.0 358.54) scale(0.7800 1)" style="font-family:&quot;Liberation Mono&quot;,monospace;font-size:8.8px;fill:#464646;letter-spacing:0.515px">Octyl acetate</text>
<text transform="translate(248.0 368.76) scale(0.7800 1)" style="font-family:&quot;Liberation Mono&quot;,monospace;font-size:8.8px;fill:#464646;letter-spacing:0.515px">Hexanoic acid</text>
<text transform="translate(248.0 378.97) scale(0.7800 1)" style="font-family:&quot;Liberation Mono&quot;,monospace;font-size:8.8px;fill:#464646;letter-spacing:0.515px">Isoamylol</text>
<text transform="translate(248.0 389.19) scale(0.7800 1)" style="font-family:&quot;Liberation Mono&quot;,monospace;font-size:8.8px;fill:#464646;letter-spacing:0.515px">Ethyl caprylate</text>
<text transform="translate(248.0 399.41) scale(0.7800 1)" style="font-family:&quot;Liberation Mono&quot;,monospace;font-size:8.8px;fill:#464646;letter-spacing:0.515px">Ethyl caprate</text>
<text transform="translate(248.0 409.62) scale(0.7800 1)" style="font-family:&quot;Liberation Mono&quot;,monospace;font-size:8.8px;fill:#464646;letter-spacing:0.515px">1-Hexanol</text>
<text transform="translate(248.0 419.84) scale(0.7800 1)" style="font-family:&quot;Liberation Mono&quot;,monospace;font-size:8.8px;fill:#464646;letter-spacing:0.515px">2,3-Butanediol</text>
<text transform="translate(248.0 430.05) scale(0.7800 1)" style="font-family:&quot;Liberation Mono&quot;,monospace;font-size:8.8px;fill:#464646;letter-spacing:0.515px">Ethyl succinate</text>
<text transform="translate(248.0 440.27) scale(0.7800 1)" style="font-family:&quot;Liberation Mono&quot;,monospace;font-size:8.8px;fill:#464646;letter-spacing:0.515px">Ethyl oenanthate</text>
<text transform="translate(248.0 450.48) scale(0.7800 1)" style="font-family:&quot;Liberation Mono&quot;,monospace;font-size:8.8px;fill:#464646;letter-spacing:0.515px">Ethyl butyrate</text>
<text transform="translate(248.0 460.70) scale(0.7800 1)" style="font-family:&quot;Liberation Mono&quot;,monospace;font-size:8.8px;fill:#464646;letter-spacing:0.515px">Ethyl hexylate</text>
<text transform="translate(248.0 470.91) scale(0.7800 1)" style="font-family:&quot;Liberation Mono&quot;,monospace;font-size:8.8px;fill:#464646;letter-spacing:0.515px">Decanal</text>
<text transform="translate(248.0 481.13) scale(0.7800 1)" style="font-family:&quot;Liberation Mono&quot;,monospace;font-size:8.8px;fill:#464646;letter-spacing:0.515px">Methyl laurate</text>
<text transform="translate(250.0 491.35) scale(0.7800 1)" style="font-family:&quot;Liberation Mono&quot;,monospace;font-size:8.8px;fill:#464646;letter-spacing:0.515px">β</text>
<text transform="translate(257.04 491.35) scale(0.7800 1)" style="font-family:&quot;Liberation Mono&quot;,monospace;font-size:8.8px;fill:#464646;letter-spacing:0.515px">-damasone</text>
<text transform="translate(248.0 501.56) scale(0.7800 1)" style="font-family:&quot;Liberation Mono&quot;,monospace;font-size:8.8px;fill:#464646;letter-spacing:0.515px">Nonanol</text>
<text transform="translate(248.0 511.78) scale(0.7800 1)" style="font-family:&quot;Liberation Mono&quot;,monospace;font-size:8.8px;fill:#464646;letter-spacing:0.515px">Methyl caproate</text>
<text transform="translate(248.0 521.99) scale(0.7800 1)" style="font-family:&quot;Liberation Mono&quot;,monospace;font-size:8.8px;fill:#464646;letter-spacing:0.515px">Caryophyllene</text>
<text transform="translate(79.04 526.6) rotate(90) scale(0.7020 1)" style="font-family:&quot;Liberation Mono&quot;,monospace;font-size:8.8px;fill:#555555;letter-spacing:0.515px">WSP10</text>
<text transform="translate(98.13 526.6) rotate(90) scale(0.7020 1)" style="font-family:&quot;Liberation Mono&quot;,monospace;font-size:8.8px;fill:#555555;letter-spacing:0.515px">WSP1</text>
<text transform="translate(117.22 526.6) rotate(90) scale(0.7020 1)" style="font-family:&quot;Liberation Mono&quot;,monospace;font-size:8.8px;fill:#555555;letter-spacing:0.515px">WCP10</text>
<text transform="translate(136.31 526.6) rotate(90) scale(0.7020 1)" style="font-family:&quot;Liberation Mono&quot;,monospace;font-size:8.8px;fill:#555555;letter-spacing:0.515px">WCH10</text>
<text transform="translate(155.40 526.6) rotate(90) scale(0.7020 1)" style="font-family:&quot;Liberation Mono&quot;,monospace;font-size:8.8px;fill:#555555;letter-spacing:0.515px">WCH1</text>
<text transform="translate(174.49 526.6) rotate(90) scale(0.7020 1)" style="font-family:&quot;Liberation Mono&quot;,monospace;font-size:8.8px;fill:#555555;letter-spacing:0.515px">WSH1</text>
<text transform="translate(193.58 526.6) rotate(90) scale(0.7020 1)" style="font-family:&quot;Liberation Mono&quot;,monospace;font-size:8.8px;fill:#555555;letter-spacing:0.515px">WSH10</text>
<text transform="translate(212.67 526.6) rotate(90) scale(0.7020 1)" style="font-family:&quot;Liberation Mono&quot;,monospace;font-size:8.8px;fill:#555555;letter-spacing:0.515px">CK</text>
<text transform="translate(231.76 526.6) rotate(90) scale(0.7020 1)" style="font-family:&quot;Liberation Mono&quot;,monospace;font-size:8.8px;fill:#555555;letter-spacing:0.515px">WCP1</text>
</svg>
</body></html>
